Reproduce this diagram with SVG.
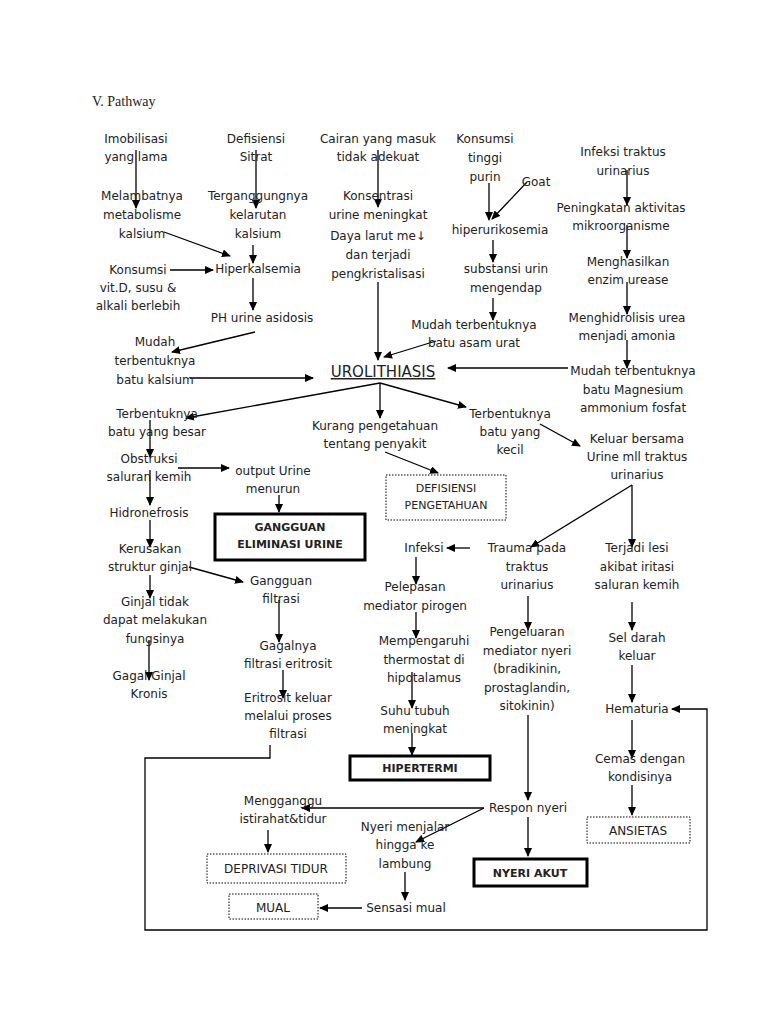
<svg xmlns="http://www.w3.org/2000/svg" width="768" height="1024" viewBox="0 0 768 1024">
<style>
text{font-family:"DejaVu Sans",Verdana,sans-serif;font-size:12px;fill:#222;text-anchor:middle}
.t{font-family:"Liberation Serif",serif;font-size:14px;text-anchor:start}
.b{font-weight:bold;font-size:11px}
.s{font-size:11px}
.thick{fill:#fff;stroke:#000;stroke-width:3}
.dot{fill:#fff;stroke:#000;stroke-width:1;stroke-dasharray:1.5 1.5}
#conn line,#conn polyline{stroke:#000;stroke-width:1.3;fill:none}
</style>
<defs><marker id="a" markerWidth="9" markerHeight="8" refX="8" refY="4" orient="auto" markerUnits="userSpaceOnUse"><path d="M0,0L9,4L0,8z" fill="#000"/></marker></defs>
<rect width="768" height="1024" fill="#fff"/>
<text class="t" x="92" y="106">V. Pathway</text>
<g id="conn">
<line x1="136" y1="150" x2="136" y2="208" marker-end="url(#a)"/>
<line x1="256" y1="150" x2="256" y2="208" marker-end="url(#a)"/>
<line x1="378" y1="150" x2="378" y2="207" marker-end="url(#a)"/>
<line x1="164" y1="232" x2="230" y2="256" marker-end="url(#a)"/>
<line x1="253" y1="245" x2="253" y2="263" marker-end="url(#a)"/>
<line x1="170" y1="270" x2="213" y2="270" marker-end="url(#a)"/>
<line x1="253" y1="278" x2="253" y2="310" marker-end="url(#a)"/>
<line x1="255" y1="332" x2="172" y2="352" marker-end="url(#a)"/>
<line x1="190" y1="378" x2="313" y2="378" marker-end="url(#a)"/>
<line x1="378" y1="282" x2="378" y2="360" marker-end="url(#a)"/>
<line x1="436" y1="341" x2="384" y2="357" marker-end="url(#a)"/>
<line x1="489" y1="183" x2="489" y2="220" marker-end="url(#a)"/>
<line x1="527" y1="182" x2="492" y2="219" marker-end="url(#a)"/>
<line x1="493" y1="240" x2="493" y2="262" marker-end="url(#a)"/>
<line x1="493" y1="298" x2="493" y2="320" marker-end="url(#a)"/>
<line x1="627" y1="170" x2="627" y2="205" marker-end="url(#a)"/>
<line x1="627" y1="225" x2="627" y2="258" marker-end="url(#a)"/>
<line x1="627" y1="282" x2="627" y2="314" marker-end="url(#a)"/>
<line x1="627" y1="340" x2="627" y2="368" marker-end="url(#a)"/>
<line x1="568" y1="368" x2="448" y2="368" marker-end="url(#a)"/>
<line x1="380" y1="383" x2="186" y2="418" marker-end="url(#a)"/>
<line x1="380" y1="383" x2="380" y2="418" marker-end="url(#a)"/>
<line x1="380" y1="383" x2="466" y2="407" marker-end="url(#a)"/>
<line x1="150" y1="420" x2="150" y2="457" marker-end="url(#a)"/>
<line x1="150" y1="470" x2="150" y2="505" marker-end="url(#a)"/>
<line x1="150" y1="520" x2="150" y2="547" marker-end="url(#a)"/>
<line x1="150" y1="575" x2="150" y2="598" marker-end="url(#a)"/>
<line x1="149" y1="640" x2="149" y2="680" marker-end="url(#a)"/>
<line x1="178" y1="468" x2="229" y2="468" marker-end="url(#a)"/>
<line x1="279" y1="495" x2="279" y2="512" marker-end="url(#a)"/>
<line x1="385" y1="452" x2="438" y2="473" marker-end="url(#a)"/>
<line x1="189" y1="567" x2="243" y2="582" marker-end="url(#a)"/>
<line x1="279" y1="600" x2="279" y2="642" marker-end="url(#a)"/>
<line x1="283" y1="670" x2="283" y2="698" marker-end="url(#a)"/>
<line x1="540" y1="424" x2="580" y2="446" marker-end="url(#a)"/>
<line x1="632" y1="485" x2="531" y2="547" marker-end="url(#a)"/>
<line x1="632" y1="485" x2="632" y2="547" marker-end="url(#a)"/>
<line x1="470" y1="548" x2="447" y2="548" marker-end="url(#a)"/>
<line x1="416" y1="557" x2="416" y2="584" marker-end="url(#a)"/>
<line x1="416" y1="612" x2="416" y2="638" marker-end="url(#a)"/>
<line x1="412" y1="672" x2="412" y2="708" marker-end="url(#a)"/>
<line x1="412" y1="733" x2="412" y2="755" marker-end="url(#a)"/>
<line x1="528" y1="596" x2="528" y2="630" marker-end="url(#a)"/>
<line x1="632" y1="602" x2="632" y2="630" marker-end="url(#a)"/>
<line x1="632" y1="665" x2="632" y2="702" marker-end="url(#a)"/>
<line x1="632" y1="720" x2="632" y2="758" marker-end="url(#a)"/>
<line x1="632" y1="785" x2="632" y2="815" marker-end="url(#a)"/>
<line x1="528" y1="715" x2="528" y2="800" marker-end="url(#a)"/>
<line x1="528" y1="817" x2="528" y2="856" marker-end="url(#a)"/>
<line x1="484" y1="808" x2="302" y2="808" marker-end="url(#a)"/>
<line x1="484" y1="808" x2="416" y2="842" marker-end="url(#a)"/>
<line x1="268" y1="830" x2="268" y2="852" marker-end="url(#a)"/>
<line x1="405" y1="872" x2="405" y2="900" marker-end="url(#a)"/>
<line x1="362" y1="908" x2="320" y2="908" marker-end="url(#a)"/>
<polyline points="270,745 270,758 145,758 145,930 707,930 707,709 672,709" marker-end="url(#a)"/>
</g>
<g id="n1"><text x="136" y="143">Imobilisasi</text><text x="136" y="161">yang lama</text></g>
<g id="n2"><text x="256" y="143">Defisiensi</text><text x="256" y="161">Sitrat</text></g>
<g id="n3"><text x="378" y="143">Cairan yang masuk</text><text x="378" y="161">tidak adekuat</text></g>
<g id="n4"><text x="485" y="143">Konsumsi</text><text x="485" y="162">tinggi</text><text x="485" y="181">purin</text></g>
<g id="n5"><text x="536" y="186">Goat</text></g>
<g id="n6"><text x="623" y="156">Infeksi traktus</text><text x="623" y="175">urinarius</text></g>
<g id="n7"><text x="142" y="200">Melambatnya</text><text x="142" y="219">metabolisme</text><text x="142" y="238">kalsium</text></g>
<g id="n8"><text x="258" y="200">Terganggungnya</text><text x="258" y="219">kelarutan</text><text x="258" y="238">kalsium</text></g>
<g id="n9"><text x="378" y="200">Konsentrasi</text><text x="378" y="219">urine meningkat</text><text x="378" y="240">Daya larut me↓</text><text x="378" y="259">dan terjadi</text><text x="378" y="278">pengkristalisasi</text></g>
<g id="n10"><text x="500" y="234">hiperurikosemia</text></g>
<g id="n11"><text x="621" y="212">Peningkatan aktivitas</text><text x="621" y="230">mikroorganisme</text></g>
<g id="n12"><text x="258" y="273">Hiperkalsemia</text></g>
<g id="n13"><text x="138" y="274">Konsumsi</text><text x="138" y="292">vit.D, susu &amp;</text><text x="138" y="310">alkali berlebih</text></g>
<g id="n14"><text x="506" y="273">substansi urin</text><text x="506" y="292">mengendap</text></g>
<g id="n15"><text x="628" y="266">Menghasilkan</text><text x="628" y="284">enzim urease</text></g>
<g id="n16"><text x="262" y="322">PH urine asidosis</text></g>
<g id="n17"><text x="627" y="322">Menghidrolisis urea</text><text x="627" y="340">menjadi amonia</text></g>
<g id="n18"><text x="474" y="329">Mudah terbentuknya</text><text x="474" y="347">batu asam urat</text></g>
<g id="n19"><text x="155" y="346">Mudah</text><text x="155" y="365">terbentuknya</text><text x="155" y="384">batu kalsium</text></g>
<g id="n20"><text x="383" y="377" style="font-size:15px;text-decoration:underline">UROLITHIASIS</text></g>
<g id="n21"><text x="633" y="375">Mudah terbentuknya</text><text x="633" y="394">batu Magnesium</text><text x="633" y="412">ammonium fosfat</text></g>
<g id="n22"><text x="157" y="418">Terbentuknya</text><text x="157" y="436">batu yang besar</text></g>
<g id="n23"><text x="375" y="430">Kurang pengetahuan</text><text x="375" y="448">tentang penyakit</text></g>
<g id="n24"><text x="510" y="418">Terbentuknya</text><text x="510" y="436">batu yang</text><text x="510" y="454">kecil</text></g>
<g id="n25"><text x="637" y="443">Keluar bersama</text><text x="637" y="461">Urine mll traktus</text><text x="637" y="479">urinarius</text></g>
<g id="n26"><text x="149" y="463">Obstruksi</text><text x="149" y="481">saluran kemih</text></g>
<g id="n27"><text x="273" y="475">output Urine</text><text x="273" y="493">menurun</text></g>
<g id="n28"><rect class="dot" x="386" y="475" width="120" height="45"/><text class="s" x="446" y="492">DEFISIENSI</text><text class="s" x="446" y="509">PENGETAHUAN</text></g>
<g id="n29"><text x="149" y="517">Hidronefrosis</text></g>
<g id="n30"><rect class="thick" x="215" y="514" width="150" height="46"/><text class="b" x="290" y="531">GANGGUAN</text><text class="b" x="290" y="548">ELIMINASI URINE</text></g>
<g id="n31"><text x="150" y="553">Kerusakan</text><text x="150" y="571">struktur ginjal</text></g>
<g id="n32"><text x="424" y="552">Infeksi</text></g>
<g id="n33"><text x="527" y="552">Trauma pada</text><text x="527" y="571">traktus</text><text x="527" y="589">urinarius</text></g>
<g id="n34"><text x="637" y="552">Terjadi lesi</text><text x="637" y="571">akibat iritasi</text><text x="637" y="589">saluran kemih</text></g>
<g id="n35"><text x="281" y="585">Gangguan</text><text x="281" y="603">filtrasi</text></g>
<g id="n36"><text x="415" y="591">Pelepasan</text><text x="415" y="610">mediator pirogen</text></g>
<g id="n37"><text x="155" y="606">Ginjal tidak</text><text x="155" y="624">dapat melakukan</text><text x="155" y="643">fungsinya</text></g>
<g id="n38"><text x="527" y="636">Pengeluaran</text><text x="527" y="655">mediator nyeri</text><text x="527" y="673">(bradikinin,</text><text x="527" y="692">prostaglandin,</text><text x="527" y="710">sitokinin)</text></g>
<g id="n39"><text x="637" y="642">Sel darah</text><text x="637" y="660">keluar</text></g>
<g id="n40"><text x="424" y="645">Mempengaruhi</text><text x="424" y="664">thermostat di</text><text x="424" y="682">hipotalamus</text></g>
<g id="n41"><text x="288" y="650">Gagalnya</text><text x="288" y="668">filtrasi eritrosit</text></g>
<g id="n42"><text x="149" y="680">Gagal Ginjal</text><text x="149" y="698">Kronis</text></g>
<g id="n43"><text x="288" y="702">Eritrosit keluar</text><text x="288" y="720">melalui proses</text><text x="288" y="738">filtrasi</text></g>
<g id="n44"><text x="415" y="715">Suhu tubuh</text><text x="415" y="733">meningkat</text></g>
<g id="n45"><text x="637" y="713">Hematuria</text></g>
<g id="n46"><rect class="thick" x="350" y="756" width="140" height="24"/><text class="b" x="420" y="772">HIPERTERMI</text></g>
<g id="n47"><text x="640" y="763">Cemas dengan</text><text x="640" y="781">kondisinya</text></g>
<g id="n48"><text x="283" y="805">Mengganggu</text><text x="283" y="823">istirahat&amp;tidur</text></g>
<g id="n49"><text x="528" y="812">Respon nyeri</text></g>
<g id="n50"><text x="405" y="831">Nyeri menjalar</text><text x="405" y="849">hingga ke</text><text x="405" y="868">lambung</text></g>
<g id="n51"><rect class="dot" x="587" y="817" width="103" height="26"/><text x="638" y="835">ANSIETAS</text></g>
<g id="n52"><rect class="dot" x="207" y="854" width="139" height="29"/><text x="276" y="873">DEPRIVASI TIDUR</text></g>
<g id="n53"><rect class="thick" x="474" y="859" width="113" height="27"/><text class="b" x="530" y="877">NYERI AKUT</text></g>
<g id="n54"><rect class="dot" x="229" y="894" width="89" height="25"/><text x="273" y="912">MUAL</text></g>
<g id="n55"><text x="406" y="912">Sensasi mual</text></g>
</svg>
